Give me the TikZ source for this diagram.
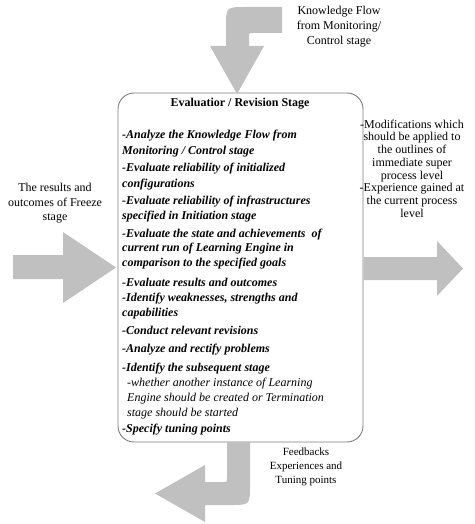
\documentclass[tikz,border=0pt]{standalone}
\usepackage{fontspec}
\setmainfont{Liberation Serif}
\definecolor{arrgray}{RGB}{192,192,192}
\definecolor{boxgray}{RGB}{125,125,125}
\tikzset{
  arr/.style={fill=arrgray, draw=none},
  stagebox/.style={draw=boxgray, line width=0.9pt, rounded corners=16pt},
  itemline/.style={anchor=base west, inner sep=0pt, font=\fontsize{12}{15}\selectfont\bfseries\itshape},
  subline/.style={anchor=base west, inner sep=0pt, font=\fontsize{12}{15}\selectfont\itshape},
  sidetext/.style={align=center, inner sep=0pt},
}
\begin{document}
\begin{tikzpicture}[x=1pt, y=-1pt]
\useasboundingbox (0,0) rectangle (474,524);
% stage box
\draw[stagebox] (118,93) rectangle (363,442);
\coordinate (boxtop) at (237,93);
\coordinate (boxbot) at (238,442);
% top bent arrow
\fill[arr] (282,7) -- (246,7) .. controls (226,7) .. (226,27) -- (226,46) -- (210,46)
  -- (237,94) -- (264,46) -- (249,46) -- (249,37) .. controls (249,33) .. (253,33) -- (282,33) -- cycle;
% bottom bent arrow
\fill[arr] (227,442) -- (250,442) -- (250,485) .. controls (250,505) .. (230,505) -- (205,505)
  -- (205,522) -- (155,493.5) -- (205,465) -- (205,482) -- (223,482) .. controls (227,482) .. (227,478) -- cycle;
% left arrow
\fill[arr] (13,255) -- (63,255) -- (63,232) -- (116,267.5) -- (63,303) -- (63,279) -- (13,279) -- cycle;
% right arrow
\fill[arr] (363.5,257) -- (437,257) -- (437,241) -- (463,268.5) -- (437,296) -- (437,280) -- (363.5,280) -- cycle;
% title
\node[font=\fontsize{12}{15}\selectfont\bfseries, inner sep=0pt] (title) at (240,104) {Evaluatior / Revision Stage};
% items
\node[itemline] (l1) at (122,139) {-Analyze the Knowledge Flow from};
\node[itemline] (l2) at (122,154) {Monitoring / Control stage};
\node[itemline] (l3) at (122,171) {-Evaluate reliability of initialized};
\node[itemline] (l4) at (122,187) {configurations};
\node[itemline] (l5) at (122,204) {-Evaluate reliability of infrastructures};
\node[itemline] (l6) at (122,219) {specified in Initiation stage};
\node[itemline] (l7) at (122,237) {-Evaluate the state and achievements~ of};
\node[itemline] (l8) at (122,251) {current run of Learning Engine in};
\node[itemline] (l9) at (122,266) {comparison to the specified goals};
\node[itemline] (l10) at (122,286) {-Evaluate results and outcomes};
\node[itemline] (l11) at (122,301) {-Identify weaknesses, strengths and};
\node[itemline] (l12) at (122,316) {capabilities};
\node[itemline] (l13) at (122,334) {-Conduct relevant revisions};
\node[itemline] (l14) at (122,352) {-Analyze and rectify problems};
\node[itemline] (l15) at (122,371) {-Identify the subsequent stage};
\node[subline] (l16) at (127,386) {-whether another instance of Learning};
\node[subline] (l17) at (127,401) {Engine should be created or Termination};
\node[subline] (l18) at (127,416) {stage should be started};
\node[itemline] (l19) at (122,432) {-Specify tuning points};
% side texts
\node[sidetext, font=\fontsize{12}{15}\selectfont] (toptext) at (339,27) {Knowledge Flow\\from Monitoring/\\Control stage};
\node[sidetext, font=\fontsize{12}{14.5}\selectfont] (lefttext) at (55,203.5) {The results and\\outcomes of Freeze\\stage};
\node[sidetext, font=\fontsize{12}{12.7}\selectfont] (righttext) at (412,168.5) {-Modifications which\\should be applied to\\the outlines of\\immediate super\\process level\\-Experience gained at\\the current process\\level};
\node[sidetext, font=\fontsize{11}{14}\selectfont] (bottext) at (306,467) {Feedbacks\\Experiences and\\Tuning points};
\end{tikzpicture}
\end{document}
